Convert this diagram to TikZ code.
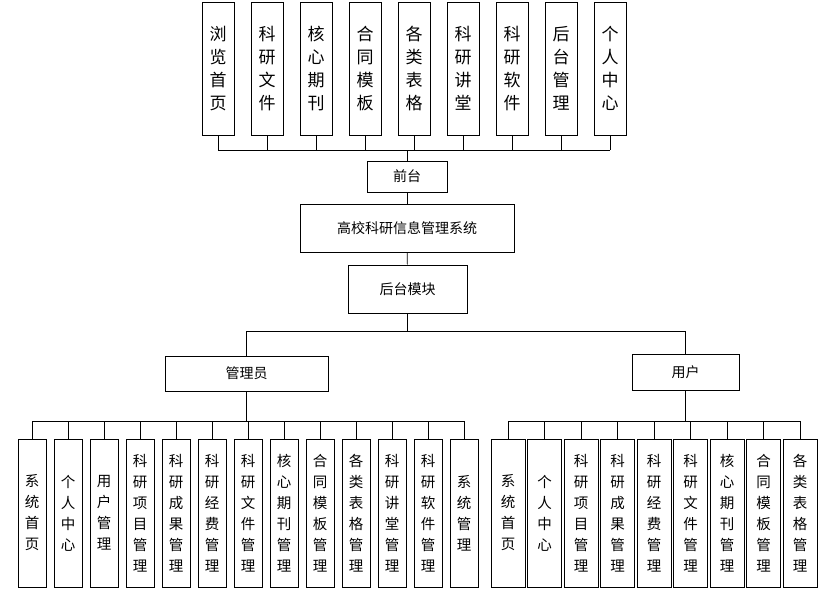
\documentclass[tikz,border=0pt]{standalone}
\usepackage{fontspec}
\setmainfont{Noto Sans CJK SC}
\tikzset{
  topbox/.style={draw, fill=white, minimum width=32pt, minimum height=133pt, inner sep=0pt, align=center, font=\fontsize{17}{23}\selectfont},
  subbox/.style={draw, fill=white, minimum width=28pt, minimum height=148pt, inner sep=0pt, align=center, font=\fontsize{14.5}{21}\selectfont},
  midbox/.style={draw, fill=white, inner sep=0pt, font=\fontsize{14}{16}\selectfont}
}
\begin{document}
\begin{tikzpicture}[x=1pt, y=-1pt, line width=0.6pt]
\useasboundingbox (0,0) rectangle (819,599);
% Front modules
\foreach \name/\txt [count=\i from 0] in {ta/浏\\览\\首\\页, tb/科\\研\\文\\件, tc/核\\心\\期\\刊, td/合\\同\\模\\板, te/各\\类\\表\\格, tf/科\\研\\讲\\堂, tg/科\\研\\软\\件, th/后\\台\\管\\理, ti/个\\人\\中\\心}
    \node[topbox] (\name) at (218+49*\i, 68.5) {\txt};
\foreach \name in {ta,tb,tc,td,te,tf,tg,th,ti}
    \draw (\name.south) -- ++(0,15);
\draw (ta.south) ++(0,15) coordinate (tl) -- (ti.south |- tl);
% Centre
\node[midbox, minimum width=80pt, minimum height=31pt] (front) at (407,176.5) {前台};
\node[midbox, minimum width=214pt, minimum height=48pt] (sys) at (407,228) {高校科研信息管理系统};
\node[midbox, minimum width=119pt, minimum height=48pt] (back) at (407.5,289) {后台模块};
\draw (front.north) -- (front.north |- tl);
\draw (front) -- (sys);
\draw (sys) -- (back);
\node[midbox, minimum width=163pt, minimum height=35pt] (admin) at (246.5,373.5) {管理员};
\node[midbox, minimum width=107pt, minimum height=36pt] (user) at (685.5,372) {用户};
\draw (back.south) -- ++(0,18) coordinate (bm);
\draw (admin.north |- bm) -- (user.north |- bm);
\draw (admin.north |- bm) -- (admin.north);
\draw (user.north |- bm) -- (user.north);
% Admin modules
\foreach \txt [count=\i from 0] in {系\\统\\首\\页, 个\\人\\中\\心, 用\\户\\管\\理, 科\\研\\项\\目\\管\\理, 科\\研\\成\\果\\管\\理, 科\\研\\经\\费\\管\\理, 科\\研\\文\\件\\管\\理, 核\\心\\期\\刊\\管\\理, 合\\同\\模\\板\\管\\理, 各\\类\\表\\格\\管\\理, 科\\研\\讲\\堂\\管\\理, 科\\研\\软\\件\\管\\理, 系\\统\\管\\理}
    \node[subbox] (a\i) at (32+36*\i, 513) {\txt};
\draw[line width=1.2pt] (admin.south) -- ++(0,30) coordinate (al);
\draw (a0.north |- al) -- (a12.north |- al);
\foreach \i in {0,...,12}
    \draw (a\i.north) -- (a\i.north |- al);
% User modules
\foreach \txt [count=\i from 0] in {系\\统\\首\\页, 个\\人\\中\\心, 科\\研\\项\\目\\管\\理, 科\\研\\成\\果\\管\\理, 科\\研\\经\\费\\管\\理, 科\\研\\文\\件\\管\\理, 核\\心\\期\\刊\\管\\理, 合\\同\\模\\板\\管\\理, 各\\类\\表\\格\\管\\理}
    \node[subbox, minimum width=34pt] (u\i) at (508+36.5*\i, 513) {\txt};
\draw (user.south) -- ++(0,31) coordinate (ul);
\draw (u0.north |- ul) -- (u8.north |- ul);
\foreach \i in {0,...,8}
    \draw (u\i.north) -- (u\i.north |- ul);
\end{tikzpicture}
\end{document}
